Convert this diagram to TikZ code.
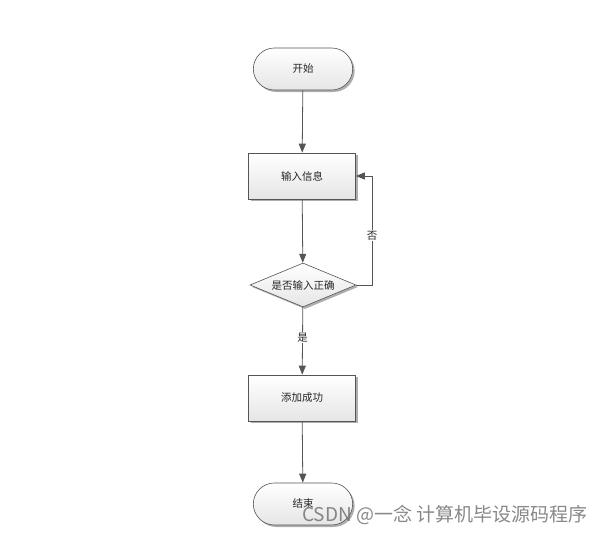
\documentclass[tikz,border=0pt]{standalone}
\usepackage{fontspec}
\newfontfamily\cjk{Noto Sans CJK SC}
\usetikzlibrary{shapes.geometric,shapes.misc,arrows.meta,shadows}
\definecolor{linec}{HTML}{555555}
\tikzset{
  base/.style={draw=linec, line width=0.6pt, font=\cjk\fontsize{10.5}{12}\selectfont, text=black!85,
    top color=white, bottom color=black!10,
    drop shadow={shadow xshift=2pt, shadow yshift=-2pt, fill=black!45, opacity=0.7}},
  term/.style={base, rounded rectangle, minimum width=106pt, minimum height=42pt},
  procbox/.style={base, rectangle, minimum width=107pt, minimum height=46pt},
  decide/.style={base, diamond, aspect=2.4, minimum width=106pt, minimum height=44pt, inner sep=0pt},
  conn/.style={draw=linec, line width=0.8pt, -{Triangle[length=9pt,width=7pt]}},
  lbl/.style={fill=white, inner sep=1pt, font=\cjk\fontsize{10.5}{12}\selectfont, text=black!85}
}
\begin{document}
\begin{tikzpicture}[x=1pt,y=-1pt]
\useasboundingbox (0,0) rectangle (614,533);
\node[term] (start) at (303,69) {开始};
\node[procbox] (input) at (302,176) {输入信息};
\node[decide] (check) at (303,285) {是否输入正确};
\node[procbox] (add) at (302,398) {添加成功};
\node[term] (end) at (303,504) {\raisebox{2pt}{结束}};
\coordinate (c1) at (372,285);
\coordinate (c2) at (372,176);
\draw[conn] (start) -- (input);
\draw[conn] (input) -- (check);
\draw[conn] (check) -- node[lbl, pos=0.45] {是} (add);
\draw[conn] (add) -- (end);
\draw[conn] (check.east) -- (c1) -- node[lbl, pos=0.45] {否} (c2) -- (input.east);
\node[font=\cjk\fontsize{19}{22}\selectfont, text=black!55, anchor=west, opacity=0.85, inner sep=0pt] (wm) at (302,515) {CSDN @一念 计算机毕设源码程序};
\end{tikzpicture}
\end{document}
